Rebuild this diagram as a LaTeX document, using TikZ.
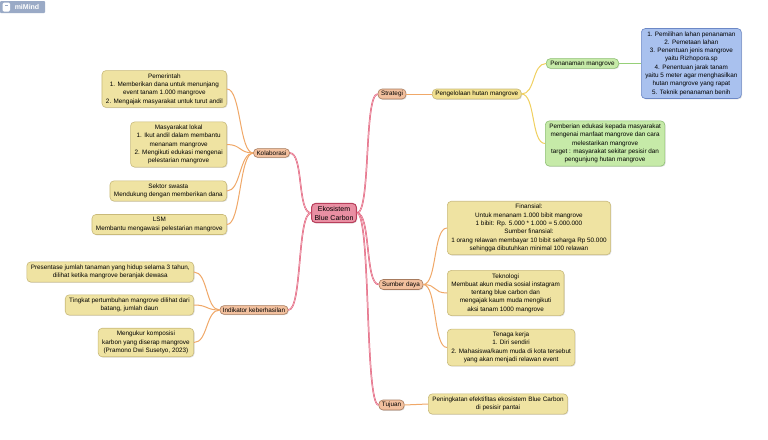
\documentclass[tikz,border=0pt]{standalone}
\usepackage{fontspec}
\setmainfont{Liberation Sans}
\usetikzlibrary{shadows}
\definecolor{rootfill}{HTML}{E98FA3}
\definecolor{rootdraw}{HTML}{B8405C}
\definecolor{branchfill}{HTML}{F2C09E}
\definecolor{branchdraw}{HTML}{A77B5E}
\definecolor{leaffill}{HTML}{EFE3A2}
\definecolor{leafdraw}{HTML}{C9BA7A}
\definecolor{subfill}{HTML}{F1E08E}
\definecolor{greenfill}{HTML}{C6EAA8}
\definecolor{greendraw}{HTML}{8DBF72}
\definecolor{bluefill}{HTML}{A9C1EE}
\definecolor{bluedraw}{HTML}{6C88C6}
\definecolor{mainline}{HTML}{E0506E}
\definecolor{sideline}{HTML}{F0A868}
\definecolor{yellowline}{HTML}{F0D060}
\definecolor{greenline}{HTML}{96D078}
\definecolor{logofill}{HTML}{9AAAC6}

\begin{document}
\begin{tikzpicture}[x=1pt,y=-1pt,
  box/.style={draw, rounded corners=4pt, align=center, line width=0.6pt,
    font=\fontsize{6.35}{8.3}\selectfont,
    drop shadow={opacity=0.25, shadow xshift=0.8pt, shadow yshift=-0.8pt}},
  root/.style={box, fill=rootfill, draw=rootdraw, line width=1pt,
    font=\fontsize{7}{9}\selectfont, inner xsep=3pt, inner ysep=2.5pt},
  branch/.style={box, fill=branchfill, draw=branchdraw, inner xsep=3pt, inner ysep=2pt},
  leaf/.style={box, fill=leaffill, draw=leafdraw, inner xsep=4pt, inner ysep=3pt},
  subbox/.style={box, fill=subfill, draw=leafdraw, inner xsep=3pt, inner ysep=2pt},
  greenbox/.style={box, fill=greenfill, draw=greendraw, inner xsep=4pt, inner ysep=3pt},
  bluebox/.style={box, fill=bluefill, draw=bluedraw, inner xsep=4pt, inner ysep=3pt},
  mainlink/.style={draw=mainline, double=mainline!35, double distance=0.5pt, line width=0.5pt},
  sidelink/.style={draw=sideline, line width=1pt},
  yellowlink/.style={draw=yellowline, line width=1pt},
  greenlink/.style={draw=greenline, line width=1pt}]
\fill[white] (0,0) rectangle (768,439);
\useasboundingbox (0,0) rectangle (768,439);

% logo
\node[fill=logofill, text=white, font=\fontsize{7}{8}\selectfont\bfseries,
  minimum width=45pt, minimum height=12pt, inner sep=0pt, rounded corners=1pt] (logo) at (22.5,7) {\hspace{9pt}miMind};
\fill[white, rounded corners=1.5pt] (2.5,2.5) rectangle (10,11.5);
\fill[logofill] (4.5,5) rectangle (8,6);

% root and main branches
\node[root] (eko) at (334,213) {Ekosistem\\Blue Carbon};
\node[branch] (kol) at (271.5,153) {Kolaborasi};
\node[branch] (ind) at (254,310) {Indikator keberhasilan};
\node[branch] (strat) at (392,94) {Strategi};
\node[branch] (sumber) at (401,284.5) {Sumber daya};
\node[branch] (tuj) at (391.5,405) {Tujuan};

% kolaborasi
\node[leaf, anchor=east] (pem) at (227,89) {Pemerintah\\1. Memberikan dana untuk menunjang\\event tanam 1.000 mangrove\\2. Mengajak masyarakat untuk turut andil};
\node[leaf, anchor=east] (masy) at (227,144.5) {Masyarakat lokal\\1. Ikut andil dalam membantu\\menanam mangrove\\2. Mengikuti edukasi mengenai\\pelestarian mangrove};
\node[leaf, anchor=east] (swasta) at (227,191) {Sektor swasta\\Mendukung dengan memberikan dana};
\node[leaf, anchor=east] (lsm) at (227,224.5) {LSM\\Membantu mengawasi pelestarian mangrove};

% indikator
\node[leaf, anchor=east] (pres) at (194,272) {Presentase jumlah tanaman yang hidup selama 3 tahun,\\dilihat ketika mangrove beranjak dewasa};
\node[leaf, anchor=east] (ting) at (194,305) {Tingkat pertumbuhan mangrove dilihat dari\\batang, jumlah daun};
\node[leaf, anchor=east] (ukur) at (194,342.5) {Mengukur komposisi\\karbon yang diserap mangrove\\(Pramono Dwi Susetyo, 2023)};

% strategi
\node[subbox, anchor=west] (kelola) at (432,94) {Pengelolaan hutan mangrove};
\node[greenbox, inner ysep=2pt, anchor=west] (tanam) at (546,63.5) {Penanaman mangrove};
\node[bluebox, anchor=west] (langkah) at (641,63.5) {1. Pemilihan lahan penanaman\\2. Pemetaan lahan\\3. Penentuan jenis mangrove\\yaitu Rizhopora.sp\\4. Penentuan jarak tanam\\yaitu 5 meter agar menghasilkan\\hutan mangrove yang rapat\\5. Teknik penanaman benih};
\node[greenbox, anchor=west] (edukasi) at (545,143.5) {Pemberian edukasi kepada masyarakat\\mengenai manfaat mangrove dan cara\\melestarikan mangrove\\target : masyarakat sekitar pesisir dan\\pengunjung hutan mangrove};

% sumber daya
\node[leaf, anchor=west] (dana) at (447,228) {Finansial:\\Untuk menanam 1.000 bibit mangrove\\1 bibit: Rp. 5.000 * 1.000 = 5.000.000\\Sumber finansial:\\1 orang relawan membayar 10 bibit seharga Rp 50.000\\sehingga dibutuhkan minimal 100 relawan};
\node[leaf, anchor=west] (tekno) at (447,293) {Teknologi\\Membuat akun media sosial instagram\\tentang blue carbon dan\\mengajak kaum muda mengikuti\\aksi tanam 1000 mangrove};
\node[leaf, anchor=west] (tenaga) at (447,347.5) {Tenaga kerja\\1. Diri sendiri\\2. Mahasiswa/kaum muda di kota tersebut\\yang akan menjadi relawan event};

% tujuan
\node[leaf, anchor=west] (efek) at (428,404) {Peningkatan efektifitas ekosistem Blue Carbon\\di pesisir pantai};

% connectors
\draw[mainlink] (eko.west) .. controls +(-14,0) and +(14,0) .. (kol.east);
\draw[mainlink] (eko.west) .. controls +(-14,0) and +(14,0) .. (ind.east);
\draw[mainlink] (eko.east) .. controls +(14,0) and +(-14,0) .. (strat.west);
\draw[mainlink] (eko.east) .. controls +(14,0) and +(-14,0) .. (sumber.west);
\draw[mainlink] (eko.east) .. controls +(14,0) and +(-14,0) .. (tuj.west);

\foreach \c in {pem,masy,swasta,lsm}
  \draw[sidelink] (kol.west) .. controls +(-14,0) and +(14,0) .. (\c.east);
\foreach \c in {pres,ting,ukur}
  \draw[sidelink] (ind.west) .. controls +(-14,0) and +(14,0) .. (\c.east);
\foreach \c in {dana,tekno,tenaga}
  \draw[sidelink] (sumber.east) .. controls +(14,0) and +(-14,0) .. (\c.west);
\draw[sidelink] (strat.east) -- (kelola.west);
\draw[sidelink] (tuj.east) -- (efek.west);
\draw[yellowlink] (kelola.east) .. controls +(14,0) and +(-14,0) .. (tanam.west);
\draw[yellowlink] (kelola.east) .. controls +(14,0) and +(-14,0) .. (edukasi.west);
\draw[greenlink] (tanam.east) -- (langkah.west);
\end{tikzpicture}
\end{document}
